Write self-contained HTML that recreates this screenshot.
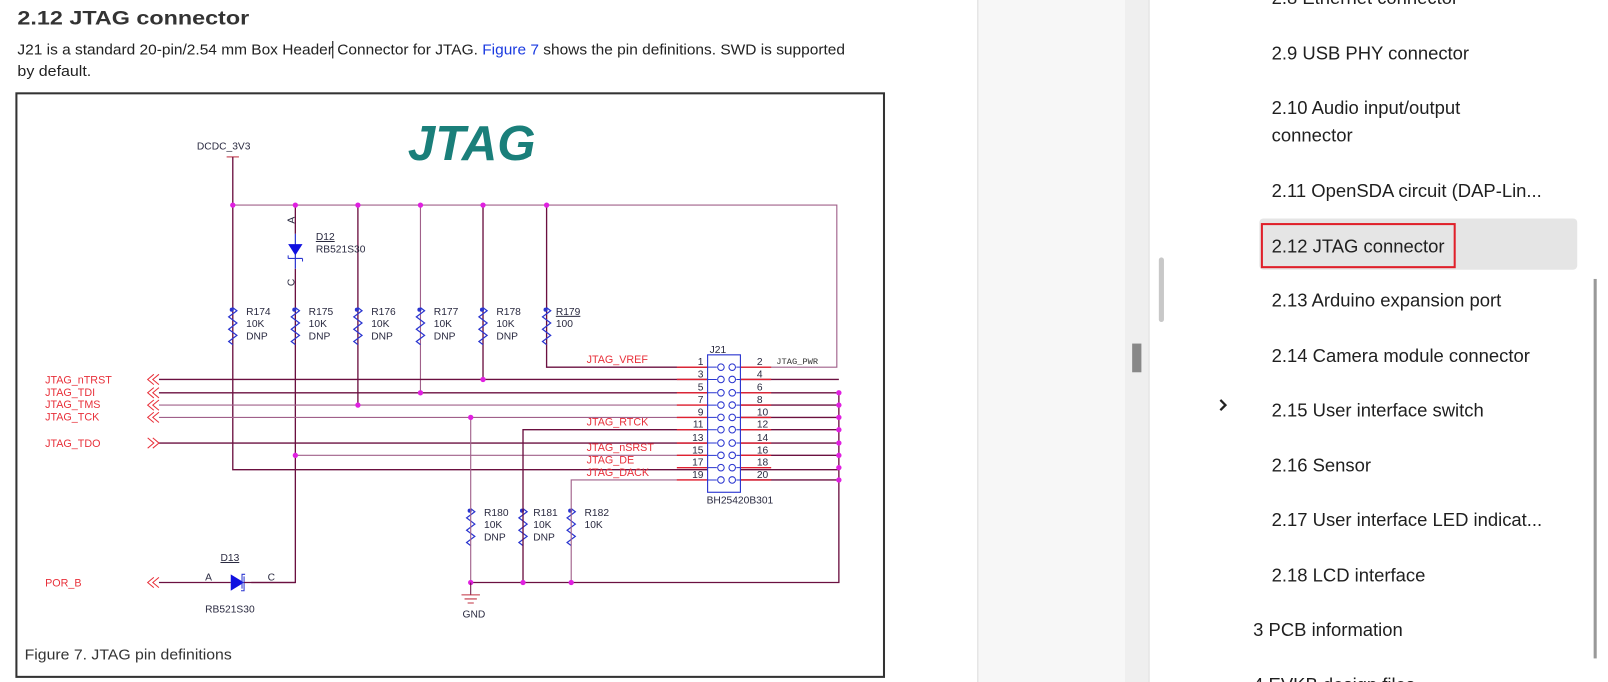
<!DOCTYPE html>
<html><head><meta charset="utf-8"><style>
html,body{margin:0;padding:0;background:#fff;width:1608px;height:682px;overflow:hidden}
svg{display:block}
.w{stroke:#6b1040;stroke-width:1.3;fill:none}
.wl{stroke:#a0608a;stroke-width:1.1;fill:none}
.rs{stroke:#2a35d0;stroke-width:1.2;fill:none}
.red{fill:#e8303a;font-family:"Liberation Sans",sans-serif;font-size:10.5px}
.lbl{fill:#2a2a40;font-family:"Liberation Sans",sans-serif;font-size:10px}
.toc{fill:#1f1f1f;font-family:"Liberation Sans",sans-serif;font-size:18px}
</style></head><body>
<svg width="1608" height="682" viewBox="0 0 1568 665" preserveAspectRatio="none" xmlns="http://www.w3.org/2000/svg">
<rect x="0" y="0" width="1568" height="665" fill="#fff"/>
<!-- right panel -->
<rect x="953" y="0" width="144" height="665" fill="#f7f7f7"/>
<line x1="953.5" y1="0" x2="953.5" y2="665" stroke="#ddd"/>
<rect x="1097" y="0" width="23" height="665" fill="#efefef"/>
<line x1="1120.5" y1="0" x2="1120.5" y2="665" stroke="#ddd"/>
<rect x="1104" y="335" width="9" height="28" fill="#888"/>
<rect x="1130" y="251" width="5" height="63" rx="2.5" fill="#c8c8c8"/>
<rect x="1554" y="272" width="3" height="370" fill="#999"/>
<rect x="1228" y="213" width="310" height="50" rx="4" fill="#e5e5e5"/>
<rect x="1230.5" y="218.5" width="188" height="42" fill="none" stroke="#e0202a" stroke-width="2"/>
<text class="toc" x="1240" y="4">2.8 Ethernet connector</text>
<text class="toc" x="1240" y="58">2.9 USB PHY connector</text>
<text class="toc" x="1240" y="111">2.10 Audio input/output</text>
<text class="toc" x="1240" y="138">connector</text>
<text class="toc" x="1240" y="192">2.11 OpenSDA circuit (DAP-Lin...</text>
<text class="toc" x="1240" y="246">2.12 JTAG connector</text>
<text class="toc" x="1240" y="299">2.13 Arduino expansion port</text>
<text class="toc" x="1240" y="353">2.14 Camera module connector</text>
<text class="toc" x="1240" y="406">2.15 User interface switch</text>
<text class="toc" x="1240" y="460">2.16 Sensor</text>
<text class="toc" x="1240" y="513">2.17 User interface LED indicat...</text>
<text class="toc" x="1240" y="567">2.18 LCD interface</text>
<text class="toc" x="1222" y="620">3 PCB information</text>
<text class="toc" x="1222" y="674">4 EVKB design files</text>
<path d="M1190 390 l5 5 l-5 5" stroke="#222" stroke-width="2.2" fill="none"/>

<!-- document -->
<text x="17" y="24" font-family="Liberation Sans,sans-serif" font-size="19" font-weight="bold" fill="#333" textLength="226" lengthAdjust="spacingAndGlyphs">2.12  JTAG connector</text>
<text x="17" y="53" font-family="Liberation Sans,sans-serif" font-size="14" fill="#222" textLength="807" lengthAdjust="spacingAndGlyphs">J21 is a standard 20-pin/2.54 mm Box Header Connector for JTAG. <tspan fill="#1a3ae0">Figure 7</tspan> shows the pin definitions. SWD is supported</text>
<line x1="324.5" y1="40" x2="324.5" y2="57" stroke="#000"/>
<text x="17" y="74" font-family="Liberation Sans,sans-serif" font-size="14" fill="#222" textLength="72" lengthAdjust="spacingAndGlyphs">by default.</text>
<rect x="16" y="91" width="846" height="569" fill="#fff" stroke="#333" stroke-width="2"/>
<text x="460" y="156" text-anchor="middle" font-family="Liberation Sans,sans-serif" font-size="48" font-weight="bold" font-style="italic" fill="#1a7f7a">JTAG</text>
<text x="192" y="146" class="lbl">DCDC_3V3</text>
<line x1="221" y1="153" x2="233" y2="153" stroke="#c03040"/>

<!-- top rail -->
<path class="w" d="M227 153 V458 H818"/>
<path class="wl" d="M227 200 H816 V358 H722"/>
<path class="w" d="M288 200 V228"/>
<path class="w" d="M288 262 V568 H245"/>
<path class="w" d="M349 200 V395"/>
<path class="wl" d="M410 200 V383"/>
<path class="w" d="M471 200 V370"/>
<path class="w" d="M533 200 V358 H690"/>
<!-- D12 -->
<line x1="288" y1="228" x2="288" y2="262" stroke="#2a35d0" stroke-width="1.2"/>
<path d="M281 238 H295 L288 249 Z" fill="#1010e0"/>
<path d="M281 252 H295 M281 252 v-3 M295 252 v3" stroke="#2a35d0" fill="none"/>
<text x="287" y="218" class="lbl" transform="rotate(-90 287 218)">A</text>
<text x="287" y="279" class="lbl" transform="rotate(-90 287 279)">C</text>
<text x="308" y="234" class="lbl" text-decoration="underline">D12</text>
<text x="308" y="246" class="lbl">RB521S30</text>

<!-- resistors -->
<g class="rs">
<path d="M227 300 l4 3 l-8 6 l8 6 l-8 6 l8 6 l-8 6 l4 3"/>
<path d="M288 300 l4 3 l-8 6 l8 6 l-8 6 l8 6 l-8 6 l4 3"/>
<path d="M349 300 l4 3 l-8 6 l8 6 l-8 6 l8 6 l-8 6 l4 3"/>
<path d="M410 300 l4 3 l-8 6 l8 6 l-8 6 l8 6 l-8 6 l4 3"/>
<path d="M471 300 l4 3 l-8 6 l8 6 l-8 6 l8 6 l-8 6 l4 3"/>
<path d="M533 300 l4 3 l-8 6 l8 6 l-8 6 l8 6 l-8 6 l4 3"/>
<path d="M459 496 l4 3 l-8 6 l8 6 l-8 6 l8 6 l-8 6 l4 3"/>
<path d="M510 496 l4 3 l-8 6 l8 6 l-8 6 l8 6 l-8 6 l4 3"/>
<path d="M557 496 l4 3 l-8 6 l8 6 l-8 6 l8 6 l-8 6 l4 3"/>
</g>
<g fill="#2a35d0">
<circle cx="226" cy="302" r="2"/><circle cx="287" cy="302" r="2"/><circle cx="348" cy="302" r="2"/><circle cx="409" cy="302" r="2"/><circle cx="470" cy="302" r="2"/><circle cx="532" cy="302" r="2"/>
<circle cx="458" cy="498" r="2"/><circle cx="509" cy="498" r="2"/><circle cx="556" cy="498" r="2"/>
</g>
<g class="lbl">
<text x="240" y="307">R174</text><text x="240" y="319">10K</text><text x="240" y="331">DNP</text>
<text x="301" y="307">R175</text><text x="301" y="319">10K</text><text x="301" y="331">DNP</text>
<text x="362" y="307">R176</text><text x="362" y="319">10K</text><text x="362" y="331">DNP</text>
<text x="423" y="307">R177</text><text x="423" y="319">10K</text><text x="423" y="331">DNP</text>
<text x="484" y="307">R178</text><text x="484" y="319">10K</text><text x="484" y="331">DNP</text>
<text x="542" y="307" text-decoration="underline">R179</text><text x="542" y="319">100</text>
<text x="472" y="503">R180</text><text x="472" y="515">10K</text><text x="472" y="527">DNP</text>
<text x="520" y="503">R181</text><text x="520" y="515">10K</text><text x="520" y="527">DNP</text>
<text x="570" y="503">R182</text><text x="570" y="515">10K</text>
</g>

<!-- signal lines -->
<path class="w" d="M155 370 H690"/>
<path class="w" d="M155 383 H690"/>
<path class="wl" d="M155 395 H690"/>
<path class="wl" d="M155 407 H690"/>
<path class="w" d="M155 432 H690"/>
<path class="wl" d="M288 444 H690"/>
<path class="wl" d="M459 407 V568"/>
<path class="w" d="M510 568 V419 H690"/>
<path class="wl" d="M557 568 V468 H690"/>
<path class="w" d="M459 568 H818 V383"/>
<g class="w"><path d="M722 370 H818"/><path d="M722 383 H818"/><path d="M722 395 H818"/><path d="M722 407 H818"/><path d="M722 419 H818"/><path d="M722 432 H818"/><path d="M722 444 H818"/><path d="M722 468 H818"/></g>
<g stroke="#e02030" stroke-width="1.3"><path d="M660 358 H690"/><path d="M660 370 H690"/><path d="M660 383 H690"/><path d="M660 395 H690"/><path d="M660 407 H690"/><path d="M660 419 H690"/><path d="M660 432 H690"/><path d="M660 444 H690"/><path d="M660 456 H690"/><path d="M660 468 H690"/>
<path d="M722 358 H752"/><path d="M722 370 H752"/><path d="M722 383 H752"/><path d="M722 395 H752"/><path d="M722 407 H752"/><path d="M722 419 H752"/><path d="M722 432 H752"/><path d="M722 444 H752"/><path d="M722 456 H752"/><path d="M722 468 H752"/></g>

<!-- arrows -->
<g stroke="#e8303a" fill="none" stroke-width="1">
<path d="M150 365 l-6 5 l6 5 M155 365 l-6 5 l6 5"/>
<path d="M150 378 l-6 5 l6 5 M155 378 l-6 5 l6 5"/>
<path d="M150 390 l-6 5 l6 5 M155 390 l-6 5 l6 5"/>
<path d="M150 402 l-6 5 l6 5 M155 402 l-6 5 l6 5"/>
<path d="M144 427 l6 5 l-6 5 M149 427 l6 5 l-6 5"/>
<path d="M150 563 l-6 5 l6 5 M155 563 l-6 5 l6 5"/>
</g>
<text class="red" x="44" y="374">JTAG_nTRST</text>
<text class="red" x="44" y="386">JTAG_TDI</text>
<text class="red" x="44" y="398">JTAG_TMS</text>
<text class="red" x="44" y="410">JTAG_TCK</text>
<text class="red" x="44" y="436">JTAG_TDO</text>
<text class="red" x="44" y="572">POR_B</text>
<text class="red" x="572" y="354">JTAG_VREF</text>
<text class="red" x="572" y="415">JTAG_RTCK</text>
<text class="red" x="572" y="440">JTAG_nSRST</text>
<text class="red" x="572" y="452">JTAG_DE</text>
<text class="red" x="572" y="464">JTAG_DACK</text>

<!-- dots -->
<g fill="#e020e0">
<circle cx="227" cy="200" r="2.6"/><circle cx="288" cy="200" r="2.6"/><circle cx="349" cy="200" r="2.6"/><circle cx="410" cy="200" r="2.6"/><circle cx="471" cy="200" r="2.6"/><circle cx="533" cy="200" r="2.6"/>
<circle cx="471" cy="370" r="2.6"/><circle cx="410" cy="383" r="2.6"/><circle cx="349" cy="395" r="2.6"/><circle cx="459" cy="407" r="2.6"/><circle cx="288" cy="444" r="2.6"/>
<circle cx="818" cy="383" r="2.6"/><circle cx="818" cy="395" r="2.6"/><circle cx="818" cy="407" r="2.6"/><circle cx="818" cy="419" r="2.6"/><circle cx="818" cy="432" r="2.6"/><circle cx="818" cy="444" r="2.6"/><circle cx="818" cy="456" r="2.6"/><circle cx="818" cy="468" r="2.6"/>
<circle cx="459" cy="568" r="2.6"/><circle cx="510" cy="568" r="2.6"/><circle cx="557" cy="568" r="2.6"/>
</g>

<!-- connector -->
<rect x="690" y="346" width="32" height="134" fill="#fff" stroke="#2a35d0" stroke-width="1.1"/>
<g stroke="#2a35d0" fill="#fff" stroke-width="1">
<circle cx="703" cy="358" r="3.2"/><circle cx="714" cy="358" r="3.2"/>
<circle cx="703" cy="370" r="3.2"/><circle cx="714" cy="370" r="3.2"/>
<circle cx="703" cy="383" r="3.2"/><circle cx="714" cy="383" r="3.2"/>
<circle cx="703" cy="395" r="3.2"/><circle cx="714" cy="395" r="3.2"/>
<circle cx="703" cy="407" r="3.2"/><circle cx="714" cy="407" r="3.2"/>
<circle cx="703" cy="419" r="3.2"/><circle cx="714" cy="419" r="3.2"/>
<circle cx="703" cy="432" r="3.2"/><circle cx="714" cy="432" r="3.2"/>
<circle cx="703" cy="444" r="3.2"/><circle cx="714" cy="444" r="3.2"/>
<circle cx="703" cy="456" r="3.2"/><circle cx="714" cy="456" r="3.2"/>
<circle cx="703" cy="468" r="3.2"/><circle cx="714" cy="468" r="3.2"/>
</g>
<g stroke="#2a35d0" stroke-width="1"><path d="M690 358 H699 M718 358 H722 M690 370 H699 M718 370 H722 M690 383 H699 M718 383 H722 M690 395 H699 M718 395 H722 M690 407 H699 M718 407 H722 M690 419 H699 M718 419 H722 M690 432 H699 M718 432 H722 M690 444 H699 M718 444 H722 M690 456 H699 M718 456 H722 M690 468 H699 M718 468 H722"/></g>
<g class="lbl" font-size="10.5">
<text x="686" y="356" text-anchor="end">1</text><text x="686" y="368" text-anchor="end">3</text><text x="686" y="381" text-anchor="end">5</text><text x="686" y="393" text-anchor="end">7</text><text x="686" y="405" text-anchor="end">9</text><text x="686" y="417" text-anchor="end">11</text><text x="686" y="430" text-anchor="end">13</text><text x="686" y="442" text-anchor="end">15</text><text x="686" y="454" text-anchor="end">17</text><text x="686" y="466" text-anchor="end">19</text>
<text x="738" y="356">2</text><text x="738" y="368">4</text><text x="738" y="381">6</text><text x="738" y="393">8</text><text x="738" y="405">10</text><text x="738" y="417">12</text><text x="738" y="430">14</text><text x="738" y="442">16</text><text x="738" y="454">18</text><text x="738" y="466">20</text>
<text x="692" y="344">J21</text>
<text x="689" y="491">BH25420B301</text>
</g>
<text x="757" y="355" font-family="Liberation Mono,monospace" font-size="8.5" fill="#333">JTAG_PWR</text>

<!-- GND -->
<line x1="459" y1="568" x2="459" y2="580" stroke="#6b1040"/>
<path d="M450 580 H468 M453 584 H465 M456 588 H462" stroke="#c03040"/>
<text x="451" y="602" class="lbl">GND</text>

<!-- D13 -->
<path d="M155 568 H225" class="w"/>
<path d="M225 560 L225 576 L238 568 Z" fill="#1010e0"/>
<path d="M236 574 V560 h3 M238 562 v14 h-3" stroke="#2a35d0" fill="none"/>
<path d="M238 568 H288" class="w"/>
<text x="215" y="547" class="lbl" text-decoration="underline">D13</text>
<text x="200" y="566" class="lbl">A</text>
<text x="261" y="566" class="lbl">C</text>
<text x="200" y="597" class="lbl">RB521S30</text>

<text x="24" y="643" font-family="Liberation Sans,sans-serif" font-size="14" fill="#333" textLength="202" lengthAdjust="spacingAndGlyphs">Figure 7.  JTAG pin definitions</text>
</svg>
</body></html>
